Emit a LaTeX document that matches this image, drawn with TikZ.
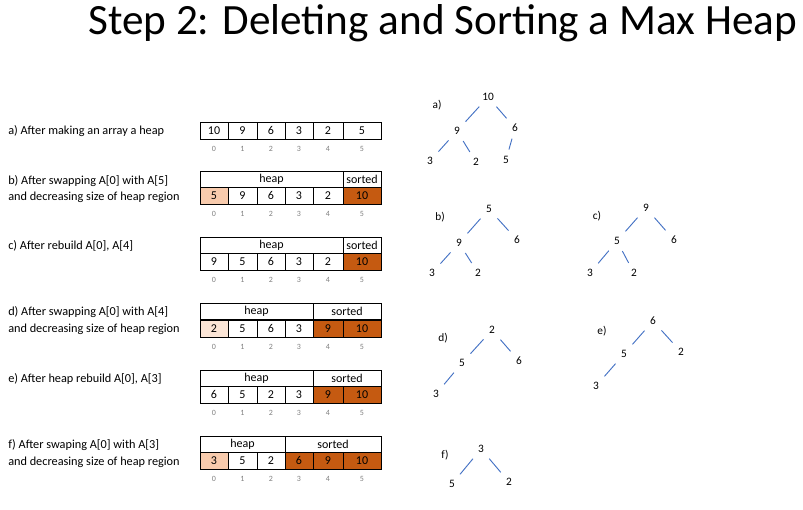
\documentclass[tikz,border=0pt]{standalone}
\usepackage{fontspec}
\setmainfont{Carlito}
\definecolor{peach}{HTML}{F8CBAD}
\definecolor{lpeach}{HTML}{FBE5D6}
\definecolor{dorange}{HTML}{C55A11}
\definecolor{edgeblue}{HTML}{4472C4}
\begin{document}
\begin{tikzpicture}[x=0.75pt,y=-0.75pt,
  lbl/.style={anchor=west,font=\fontsize{9.2}{10}\selectfont,inner sep=0pt},
  idx/.style={font=\fontsize{6}{7}\selectfont,text=gray,inner sep=0pt},
  val/.style={font=\fontsize{9}{10}\selectfont,inner sep=0pt},
  cellbox/.style={draw=black,line width=0.6pt},
  tn/.style={font=\fontsize{8.5}{9}\selectfont,inner sep=2pt},
  te/.style={draw=edgeblue,line width=0.7pt,shorten >=3pt,shorten <=3pt}]
\useasboundingbox (0,0) rectangle (803,510);
\node[anchor=west,font=\fontsize{32.4}{36}\selectfont,inner sep=0pt] (title) at (88,23) {Step 2: Deleting and Sorting a Max Heap};
\def\xs{{200,228,257,285,313,343,381}}
\newcommand{\cellrow}[2]{%
  \foreach \v/\fc [count=\i from 0] in {#2}{%
    \pgfmathsetmacro{\xa}{\xs[\i]}\pgfmathsetmacro{\xb}{\xs[\i+1]}%
    \draw[cellbox,fill=\fc] (\xa,#1) rectangle (\xb,#1+17);
    \node[val] (v#1x\i) at ({(\xa+\xb)/2},#1+8.5) {\v};
    \node[idx] (i#1x\i) at ({(\xa+\xb)/2},#1+27) {\i};
  }}
\newcommand{\hdr}[2]{%
  \draw[cellbox] (200,#1) rectangle (#2,#1+16) node[midway,val] (h#1) {heap};
  \draw[cellbox] (#2,#1) rectangle (381,#1+16) node[midway,val] (s#1) {sorted};}
\node[lbl] (la) at (8,131) {a) After making an array a heap};
\cellrow{122}{10/white,9/white,6/white,3/white,2/white,5/white}
\node[lbl] (lb1) at (8,181) {b) After swapping A[0] with A[5]};
\node[lbl] (lb2) at (8,197) {and decreasing size of heap region};
\hdr{171}{343}
\cellrow{187}{5/peach,9/white,6/white,3/white,2/white,10/dorange}
\node[lbl] (lc) at (8,246) {c) After rebuild A[0], A[4]};
\hdr{237}{343}
\cellrow{253}{9/white,5/white,6/white,3/white,2/white,10/dorange}
\node[lbl] (ld1) at (8,312) {d) After swapping A[0] with A[4]};
\node[lbl] (ld2) at (8,329) {and decreasing size of heap region};
\hdr{303}{313}
\cellrow{320}{2/lpeach,5/white,6/white,3/white,9/dorange,10/dorange}
\node[lbl] (le) at (8,379) {e) After heap rebuild A[0], A[3]};
\hdr{370}{313}
\cellrow{386}{6/white,5/white,2/white,3/white,9/dorange,10/dorange}
\node[lbl] (lf1) at (8,445) {f) After swaping A[0] with A[3]};
\node[lbl] (lf2) at (8,462) {and decreasing size of heap region};
\hdr{436}{285}
\cellrow{452}{3/peach,5/white,2/white,6/dorange,9/dorange,10/dorange}
\node[tn] (ta) at (437,105) {a)};
\node[tn] (a0) at (488,97) {10};
\node[tn] (a1) at (457,131) {9};
\node[tn] (a2) at (515,128) {6};
\node[tn] (a3) at (430,161) {3};
\node[tn] (a4) at (476,162) {2};
\node[tn] (a5) at (506,160) {5};
\draw[te] (a0)--(a1); \draw[te] (a0)--(a2); \draw[te] (a1)--(a3); \draw[te] (a1)--(a4); \draw[te] (a2)--(a5);
\node[tn] (tb) at (440,217) {b)};
\node[tn] (b0) at (489,209) {5};
\node[tn] (b1) at (459,243) {9};
\node[tn] (b2) at (517,240) {6};
\node[tn] (b3) at (432,273) {3};
\node[tn] (b4) at (478,273) {2};
\draw[te] (b0)--(b1); \draw[te] (b0)--(b2); \draw[te] (b1)--(b3); \draw[te] (b1)--(b4);
\node[tn] (tc) at (597,216) {c)};
\node[tn] (c0) at (646,208) {9};
\node[tn] (c1) at (617,241) {5};
\node[tn] (c2) at (674,240) {6};
\node[tn] (c3) at (590,273) {3};
\node[tn] (c4) at (634,273) {2};
\draw[te] (c0)--(c1); \draw[te] (c0)--(c2); \draw[te] (c1)--(c3); \draw[te] (c1)--(c4);
\node[tn] (td) at (443,338) {d)};
\node[tn] (d0) at (492,330) {2};
\node[tn] (d1) at (462,363) {5};
\node[tn] (d2) at (519,361) {6};
\node[tn] (d3) at (436,394) {3};
\draw[te] (d0)--(d1); \draw[te] (d0)--(d2); \draw[te] (d1)--(d3);
\node[tn] (tE) at (602,331) {e)};
\node[tn] (e0) at (653,321) {6};
\node[tn] (e1) at (624,354) {5};
\node[tn] (e2) at (681,352) {2};
\node[tn] (e3) at (596,386) {3};
\draw[te] (e0)--(e1); \draw[te] (e0)--(e2); \draw[te] (e1)--(e3);
\node[tn] (tf) at (445,455) {f)};
\node[tn] (f0) at (481,449) {3};
\node[tn] (f1) at (452,484) {5};
\node[tn] (f2) at (509,482) {2};
\draw[te] (f0)--(f1); \draw[te] (f0)--(f2);
\end{tikzpicture}
\end{document}
